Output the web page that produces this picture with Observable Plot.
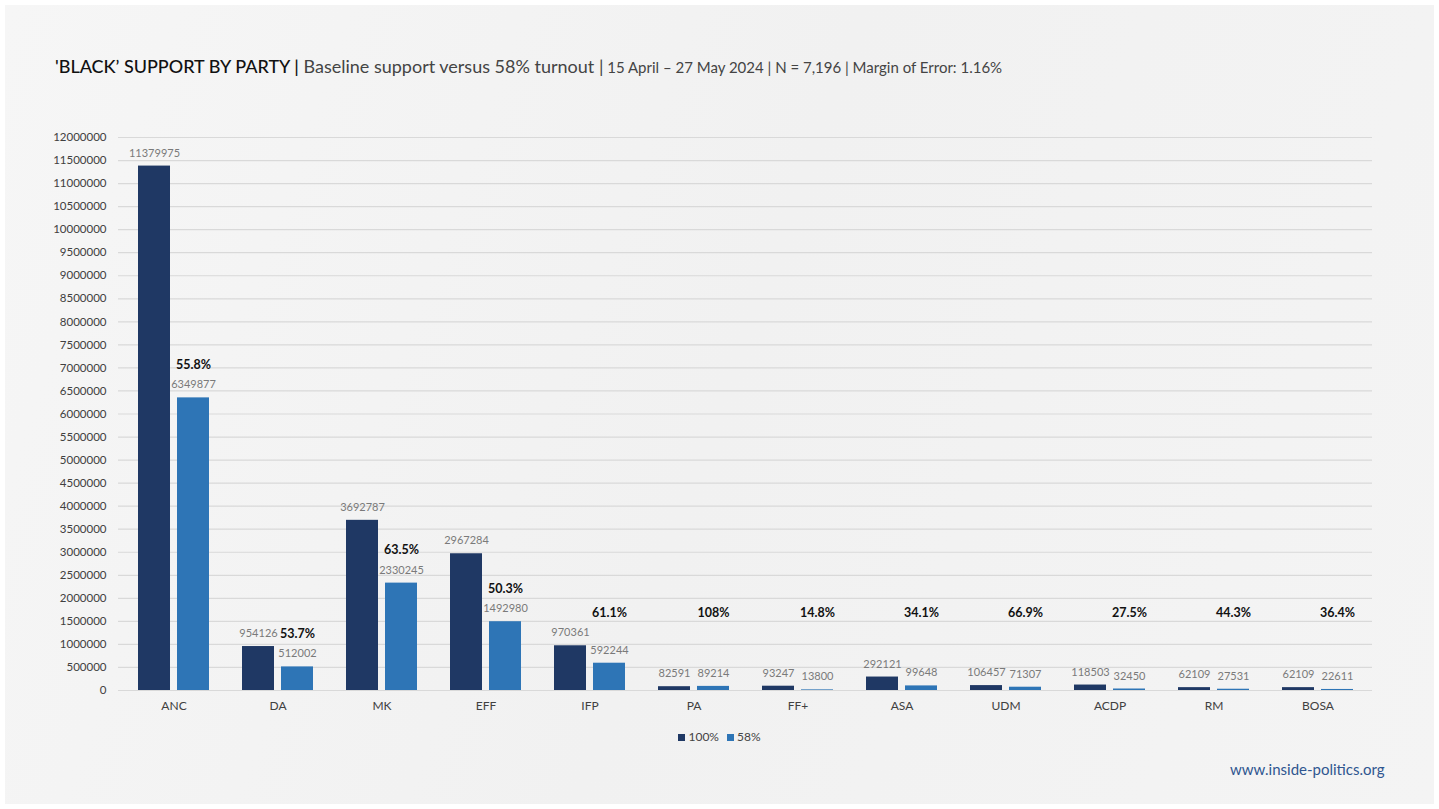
<!DOCTYPE html>
<html>
<head>
<meta charset="utf-8">
<script src="https://cdn.jsdelivr.net/npm/d3@7"></script>
<script src="https://cdn.jsdelivr.net/npm/@observablehq/plot@0.6"></script>
<style>
  html, body { margin: 0; padding: 0; background: #ffffff; }
  body { width: 1439px; height: 809px; position: relative; overflow: hidden; font-family: Lato, "Open Sans", sans-serif; }
  #panel { position: absolute; left: 5px; top: 5px; width: 1429px; height: 799px; background: linear-gradient(110deg, #f6f6f6 0%, #f1f1f1 50%, #f4f4f4 100%); }
  #title { position: absolute; left: 55px; top: 55px; white-space: nowrap; color: #222; line-height: 22px; }
  #title .t1 { font-size: 18px; font-weight: 500; color: #111; }
  #title .t2 { font-size: 18px; color: #444; }
  #title .t3 { font-size: 15px; color: #444; }
  #chart { position: absolute; left: 0; top: 100px; }
  #legend { position: absolute; top: 729px; left: 0; width: 1439px; text-align: center; font-size: 12px; color: #444; }
  #legend span.sw { display: inline-block; width: 7px; height: 7px; margin-right: 3px; vertical-align: 0px; }
  #legend span.item { margin: 0 4px; }
  #footer { position: absolute; left: 1230px; top: 760px; font-size: 15px; color: #2f5690; }
</style>
</head>
<body>
<div id="panel"></div>
<div id="title"><span class="t1">'BLACK’ SUPPORT BY PARTY |</span><span class="t2"> Baseline support versus 58% turnout |</span><span class="t3"> 15 April – 27 May 2024 | N = 7,196 | Margin of Error: 1.16%</span></div>
<div id="chart"></div>
<div id="legend"></div>
<div id="footer">www.inside-politics.org</div>
<script>
const parties = ["ANC","DA","MK","EFF","IFP","PA","FF+","ASA","UDM","ACDP","RM","BOSA"];
const support100 = [11379975,954126,3692787,2967284,970361,82591,93247,292121,106457,118503,62109,62109];
const support58 = [6349877,512002,2330245,1492980,592244,89214,13800,99648,71307,32450,27531,22611];
const turnoutPct = ["55.8%","53.7%","63.5%","50.3%","61.1%","108%","14.8%","34.1%","66.9%","27.5%","44.3%","36.4%"];
const seriesNames = ["100%","58%"];
const seriesColors = ["#1f3864","#2e75b6"];
const yTicks = d3.range(0, 12000001, 500000);
const pctAnchoredToBar = ["ANC","DA","MK","EFF"];

const rows = parties.map((p, i) => ({party: p, v100: support100[i], v58: support58[i], pct: turnoutPct[i]}));
const pctLevel = 1677000; // common label level for small parties

const W = 1439, H = 640;
const band = 71, barW = 32, off = (band - barW) / 2;

const chart = Plot.plot({
  width: W,
  height: H,
  marginTop: 37,
  marginBottom: 50,
  marginLeft: 118,
  marginRight: 67,
  style: {background: "transparent", fontFamily: "Lato, 'Open Sans', sans-serif"},
  x: {domain: parties, paddingInner: 0.32, paddingOuter: 0.16, label: null},
  y: {domain: [0, 12000000], label: null},
  marks: [
    Plot.ruleY(yTicks, {stroke: "#d9d9d9", strokeWidth: 1.2}),
    Plot.barY(rows, {x: "party", y: "v100", fill: seriesColors[0], insetRight: band - barW}),
    Plot.barY(rows, {x: "party", y: "v58", fill: seriesColors[1], insetLeft: band - barW}),
    Plot.text(rows, {x: "party", y: "v100", text: d => String(d.v100), dx: -off, dy: -13, fill: "#7a7a7a", fontSize: 11}),
    Plot.text(rows, {x: "party", y: "v58", text: d => String(d.v58), dx: off, dy: -13, fill: "#7a7a7a", fontSize: 11}),
    Plot.text(rows.filter(d => pctAnchoredToBar.includes(d.party)), {x: "party", y: "v58", text: "pct", dx: off, dy: -33, fill: "#111", fontSize: 12.5, fontWeight: "bold"}),
    Plot.text(rows.filter(d => !pctAnchoredToBar.includes(d.party)), {x: "party", y: () => pctLevel, text: "pct", dx: off, fill: "#111", fontSize: 12.5, fontWeight: "bold"}),
    Plot.axisY({ticks: yTicks, tickSize: 0, tickPadding: 12, fontSize: 11.5, fill: "#404040", tickFormat: d => String(d), label: null}),
    Plot.axisX({tickSize: 0, tickPadding: 11, fontSize: 12, fill: "#404040", label: null})
  ]
});
document.getElementById("chart").appendChild(chart);

const legend = document.getElementById("legend");
legend.innerHTML = seriesNames.map((s, i) =>
  `<span class="item"><span class="sw" style="background:${seriesColors[i]}"></span>${s}</span>`).join("");
</script>
</body>
</html>
